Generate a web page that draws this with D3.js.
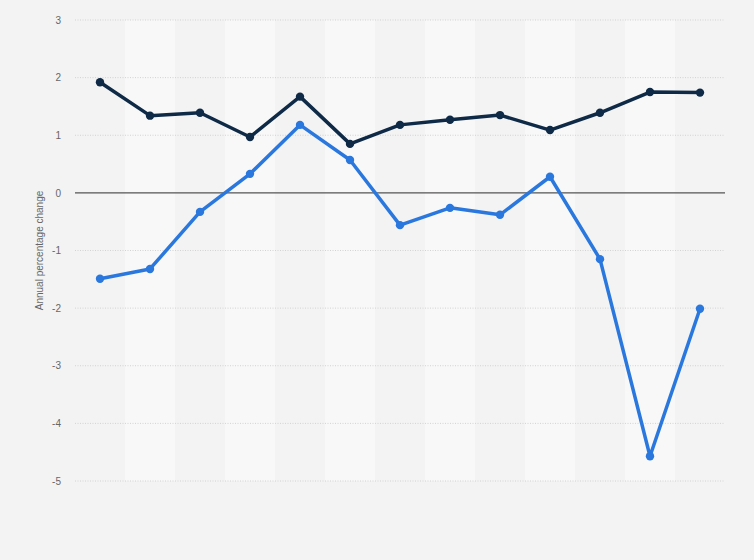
<!DOCTYPE html>
<html>
<head>
<meta charset="utf-8">
<script src="https://cdn.jsdelivr.net/npm/d3@7"></script>
<style>
  body { margin: 0; background: #f3f3f3; }
  svg { display: block; font-family: "Liberation Sans", Arial, sans-serif; }
</style>
</head>
<body>
<div id="chart"></div>
<script>
// chart data
var categories = d3.range(13).map(function(i) { return "P" + (i + 1); });
var darkSeries = [1.92, 1.34, 1.39, 0.97, 1.67, 0.85, 1.18, 1.27, 1.35, 1.09, 1.39, 1.75, 1.74];
var blueSeries = [-1.49, -1.32, -0.33, 0.33, 1.18, 0.57, -0.56, -0.26, -0.38, 0.28, -1.15, -4.57, -2.01];
var yTicks = [3, 2, 1, 0, -1, -2, -3, -4, -5];

var svgWidth = 754;
var svgHeight = 560;

var margin = { top: 20, right: 29, bottom: 79, left: 75 };
var width = svgWidth - margin.left - margin.right;
var height = svgHeight - margin.top - margin.bottom;

var svg = d3.select("#chart")
  .append("svg")
  .attr("width", svgWidth)
  .attr("height", svgHeight);

svg.append("rect")
  .attr("width", svgWidth)
  .attr("height", svgHeight)
  .attr("fill", "#f3f3f3");

var chartGroup = svg.append("g")
  .attr("transform", `translate(${margin.left}, ${margin.top})`);

var xScale = d3.scaleBand()
  .domain(categories)
  .range([0, width])
  .padding(0);

var yScale = d3.scaleLinear()
  .domain([-5, 3])
  .range([height, 0]);

// alternating column bands
chartGroup.selectAll(".band")
  .data(categories)
  .enter()
  .append("rect")
  .attr("class", "band")
  .attr("x", d => xScale(d))
  .attr("y", 0)
  .attr("width", xScale.bandwidth())
  .attr("height", height)
  .attr("fill", (d, i) => i % 2 === 1 ? "#f8f8f8" : "#f3f3f3");

// gridlines
chartGroup.selectAll(".grid")
  .data(yTicks.filter(d => d !== 0))
  .enter()
  .append("line")
  .attr("class", "grid")
  .attr("x1", 0)
  .attr("x2", width)
  .attr("y1", d => yScale(d))
  .attr("y2", d => yScale(d))
  .attr("stroke", "#d2d2d2")
  .attr("stroke-width", 1)
  .attr("stroke-dasharray", "1,1.5");

// y axis labels (plain hyphen for negatives)
var leftAxis = d3.axisLeft(yScale)
  .tickValues(yTicks)
  .tickSize(0)
  .tickPadding(14)
  .tickFormat(d => String(d));

var yAxis = chartGroup.append("g").call(leftAxis);
yAxis.select(".domain").remove();
yAxis.selectAll("text")
  .attr("fill", "#666")
  .style("font-size", "10px");

// zero line
chartGroup.append("line")
  .attr("x1", 0)
  .attr("x2", width)
  .attr("y1", yScale(0))
  .attr("y2", yScale(0))
  .attr("stroke", "#555")
  .attr("stroke-width", 1.2);

// axis title
chartGroup.append("text")
  .attr("transform", "rotate(-90)")
  .attr("x", 0 - height / 2)
  .attr("y", 0 - 32)
  .attr("text-anchor", "middle")
  .attr("fill", "#666")
  .style("font-size", "10px")
  .text("Annual percentage change");

function drawSeries(values, color) {
  var line = d3.line()
    .x((d, i) => xScale(categories[i]) + xScale.bandwidth() / 2)
    .y(d => yScale(d));

  chartGroup.append("path")
    .datum(values)
    .attr("fill", "none")
    .attr("stroke", color)
    .attr("stroke-width", 3.5)
    .attr("stroke-linejoin", "round")
    .attr("d", line);

  chartGroup.append("g")
    .selectAll("circle")
    .data(values)
    .enter()
    .append("circle")
    .attr("cx", (d, i) => xScale(categories[i]) + xScale.bandwidth() / 2)
    .attr("cy", d => yScale(d))
    .attr("r", 4.2)
    .attr("fill", color);
}

drawSeries(blueSeries, "#2a78de");
drawSeries(darkSeries, "#0e2a47");
</script>
</body>
</html>
